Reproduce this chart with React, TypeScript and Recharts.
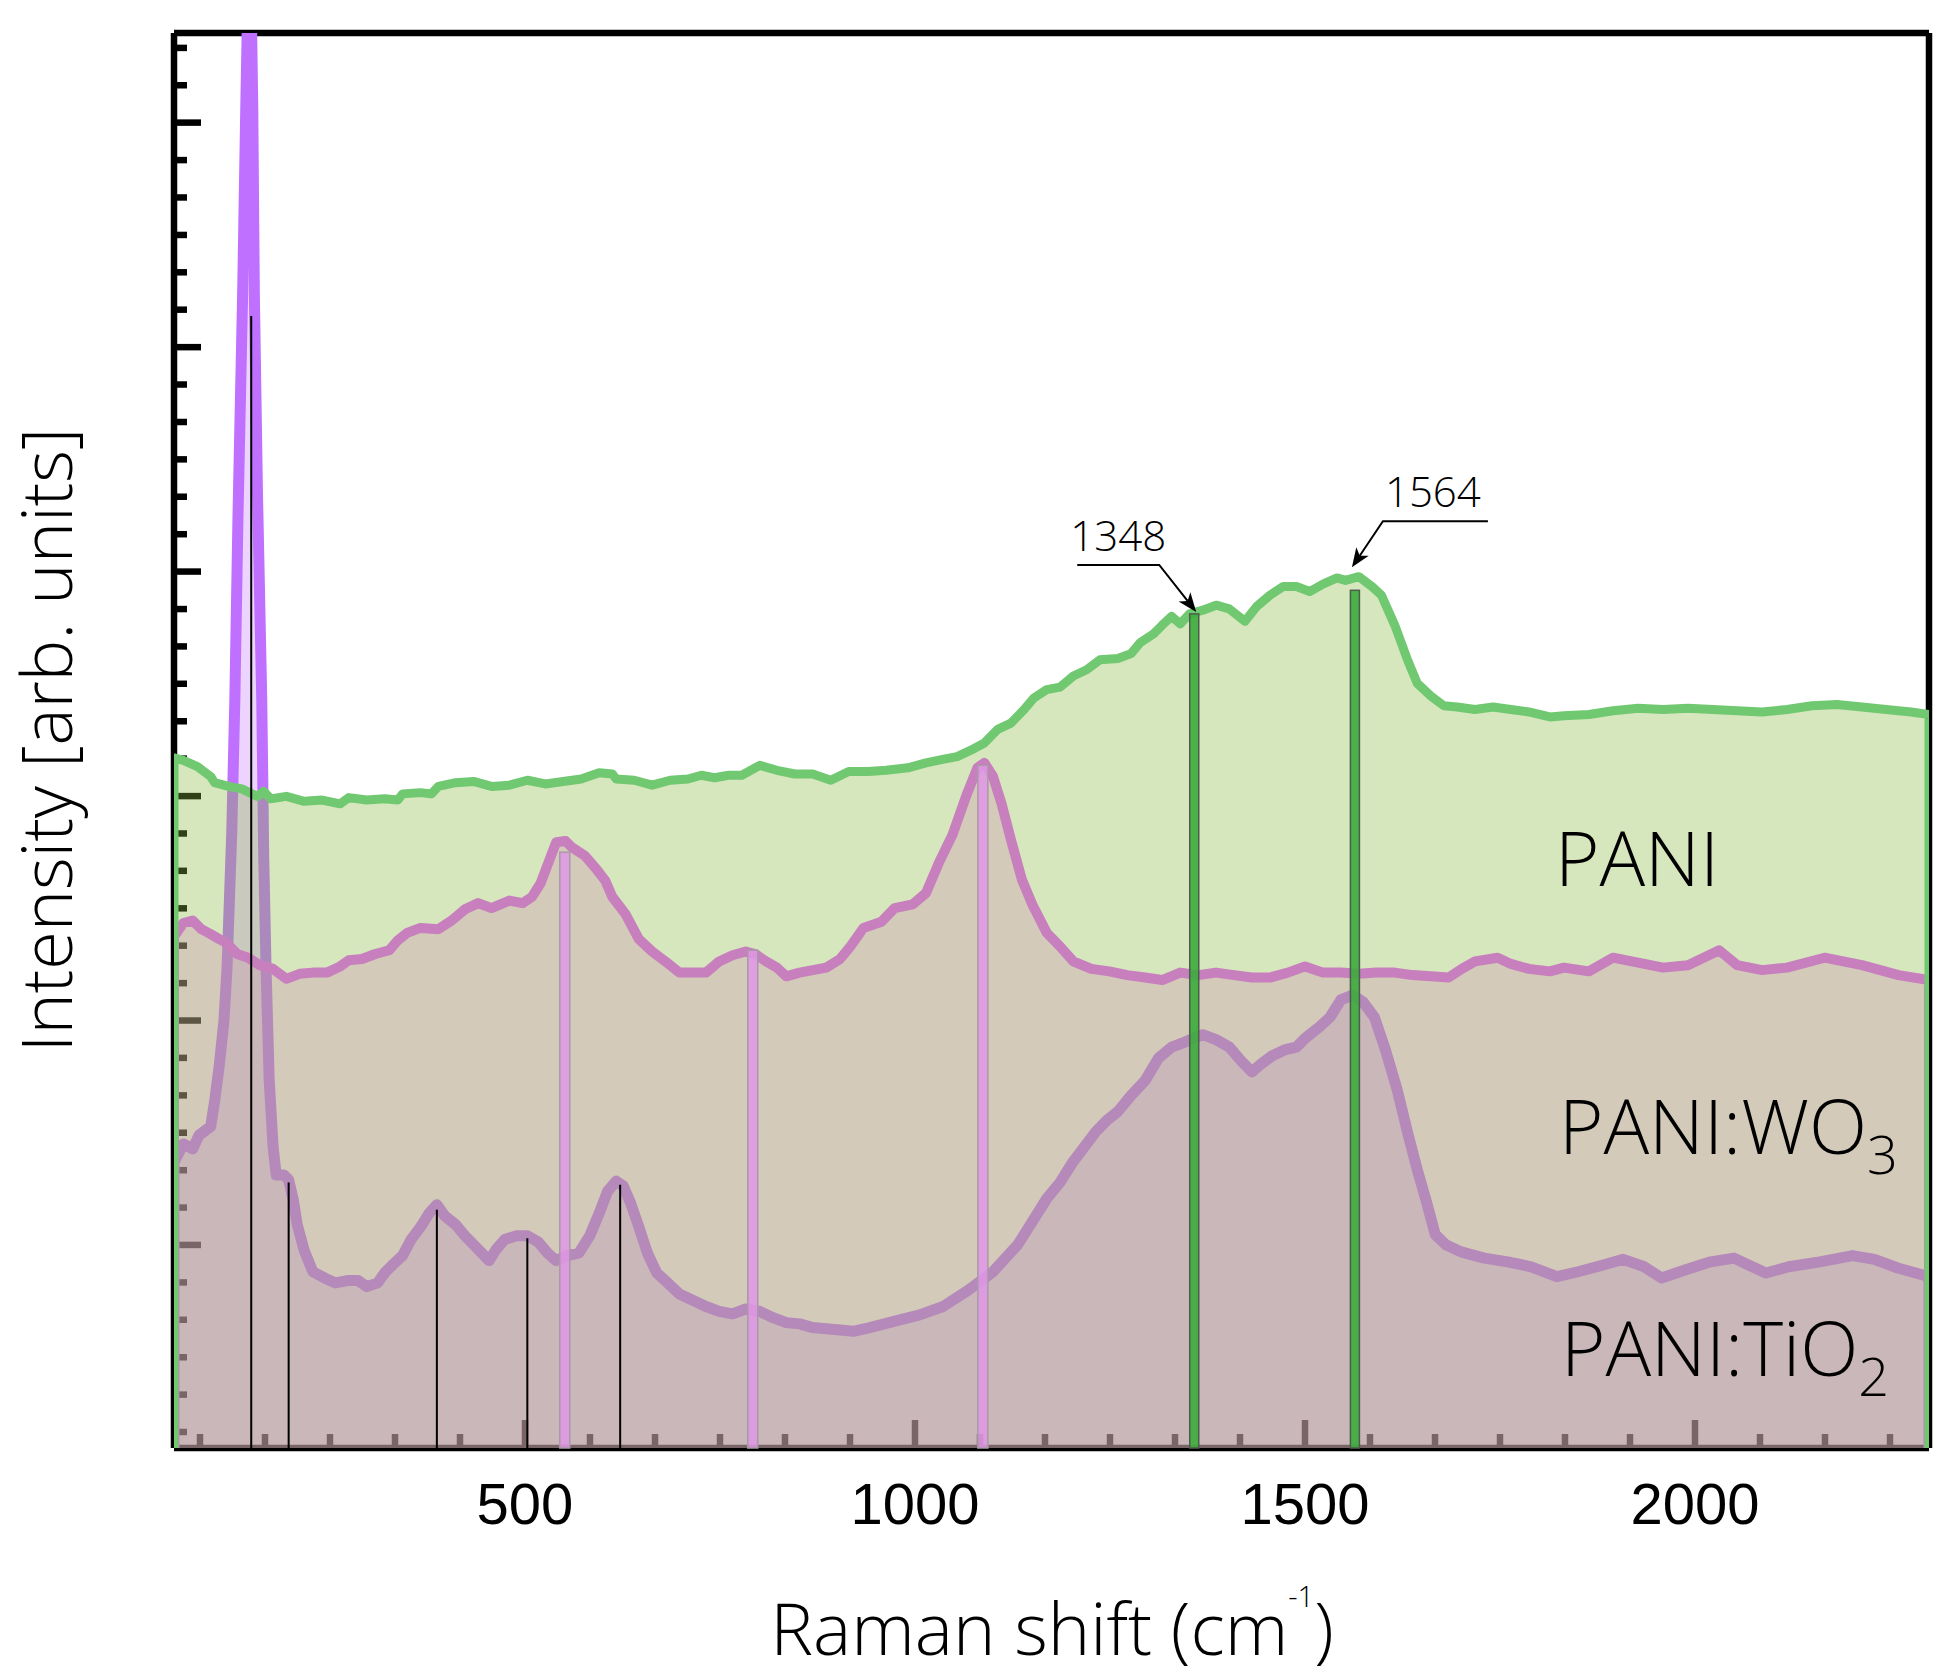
import React from 'react';
import { ComposedChart, Area, XAxis, YAxis, ReferenceLine, ReferenceDot } from 'recharts';

// ---------------- data ----------------
// Raman shift (cm-1), intensity (arb. units)
const paniPoints: [number, number][] = [
  [50, 0], [50, 556], [62, 554], [80, 549], [97, 541], [102, 536], [120, 533], [137, 531], [157, 525], [165, 529],
  [174, 523], [194, 525], [217, 521], [240, 522], [263, 519], [274, 524], [297, 522], [320, 523], [337, 522], [343, 527],
  [366, 528], [380, 527], [389, 533], [411, 536], [434, 537], [457, 533], [480, 534], [503, 538], [526, 535], [549, 537],
  [572, 539], [595, 544], [612, 543], [617, 539], [640, 538], [663, 534], [686, 538], [709, 539], [726, 542], [743, 540],
  [761, 542], [778, 542], [801, 550], [823, 546], [846, 543], [869, 543], [892, 538], [915, 545], [940, 545], [963, 546],
  [991, 548], [1014, 552], [1037, 555], [1054, 557], [1071, 562], [1089, 568], [1106, 579], [1123, 584], [1140, 595], [1152, 604],
  [1169, 611], [1186, 613], [1203, 622], [1220, 627], [1237, 635], [1260, 636], [1277, 640], [1289, 649], [1306, 656], [1317, 663],
  [1329, 670], [1340, 664], [1352, 672], [1369, 675], [1386, 679], [1403, 676], [1423, 666], [1438, 678], [1455, 687], [1472, 694],
  [1489, 694], [1506, 690], [1523, 696], [1541, 701], [1552, 699], [1569, 702], [1586, 694], [1598, 687], [1615, 663], [1632, 634],
  [1644, 616], [1661, 606], [1678, 598], [1695, 597], [1718, 595], [1741, 597], [1764, 595], [1787, 593], [1814, 589], [1832, 590],
  [1864, 591], [1895, 594], [1927, 596], [1959, 595], [1991, 596], [2023, 595], [2054, 594], [2086, 593], [2118, 595], [2150, 598],
  [2182, 599], [2214, 597], [2245, 595], [2277, 593], [2300, 591], [2300, 0],
];

const wo3Points: [number, number][] = [
  [50, 0], [50, 412], [62, 423], [74, 425], [85, 418], [97, 414], [108, 410], [117, 407], [131, 398], [145, 395],
  [160, 389], [177, 386], [194, 378], [211, 382], [228, 383], [246, 383], [263, 388], [274, 393], [291, 394], [308, 398],
  [326, 401], [337, 409], [349, 415], [366, 419], [389, 418], [406, 425], [423, 434], [440, 439], [457, 435], [480, 441],
  [497, 439], [509, 444], [520, 455], [532, 475], [540, 488], [552, 489], [560, 484], [577, 477], [592, 466], [603, 457],
  [612, 444], [629, 430], [646, 410], [663, 400], [680, 392], [698, 383], [720, 383], [732, 383], [749, 392], [766, 397],
  [783, 400], [795, 398], [809, 392], [823, 387], [835, 380], [852, 383], [869, 385], [886, 387], [904, 394], [917, 404],
  [934, 419], [957, 424], [974, 435], [997, 438], [1014, 447], [1031, 472], [1048, 494], [1066, 526], [1080, 548], [1089, 552],
  [1100, 541], [1111, 519], [1123, 490], [1137, 458], [1151, 437], [1169, 415], [1186, 404], [1203, 392], [1226, 386], [1249, 384],
  [1272, 381], [1295, 379], [1317, 377], [1340, 383], [1363, 381], [1386, 383], [1409, 381], [1432, 379], [1455, 379], [1478, 383],
  [1500, 388], [1523, 383], [1546, 383], [1569, 382], [1592, 383], [1615, 383], [1638, 381], [1661, 380], [1684, 379], [1701, 386],
  [1718, 392], [1747, 395], [1764, 390], [1787, 386], [1814, 384], [1832, 387], [1864, 384], [1895, 395], [1927, 391], [1959, 387],
  [1991, 389], [2031, 401], [2054, 389], [2086, 385], [2118, 387], [2166, 395], [2214, 389], [2261, 381], [2300, 377], [2300, 0],
];

const tio2Points: [number, number][] = [
  [50, 0], [50, 230], [62, 245], [74, 241], [82, 252], [97, 259], [102, 279], [108, 308], [114, 344], [118, 387],
  [121, 441], [124, 495], [126, 549], [128, 603], [132, 750], [138, 930], [142, 1080], [147, 1250], [151, 1080], [153, 930],
  [157, 770], [162.5, 603], [163.6, 549], [165, 477], [168, 387], [172, 297], [177, 243], [181, 220], [191, 220], [197, 216],
  [203, 200], [208, 180], [217, 159], [228, 142], [243, 137], [257, 133], [274, 135], [286, 135], [297, 130], [311, 133],
  [320, 141], [331, 148], [343, 155], [354, 168], [366, 178], [377, 189], [387, 196], [397, 187], [411, 180], [423, 171],
  [440, 160], [454, 151], [463, 160], [474, 168], [489, 171], [503, 171], [517, 166], [529, 157], [540, 151], [554, 155],
  [569, 157], [583, 171], [595, 189], [606, 207], [617, 215], [626, 211], [635, 198], [646, 178], [657, 157], [669, 141],
  [683, 133], [698, 124], [715, 119], [732, 114], [749, 110], [766, 108], [783, 112], [801, 110], [818, 105], [835, 101],
  [852, 100], [869, 97], [886, 96], [904, 95], [921, 94], [942, 97], [973, 102], [1005, 107], [1036, 114], [1068, 127],
  [1100, 142], [1132, 164], [1169, 201], [1186, 214], [1203, 231], [1214, 240], [1232, 255], [1246, 264], [1260, 271], [1277, 284],
  [1295, 296], [1312, 314], [1329, 323], [1346, 327], [1357, 330], [1369, 333], [1386, 329], [1403, 323], [1418, 312], [1432, 303],
  [1443, 309], [1458, 316], [1475, 321], [1489, 323], [1500, 330], [1518, 339], [1532, 347], [1546, 361], [1561, 365], [1575, 359],
  [1589, 347], [1603, 321], [1618, 289], [1632, 253], [1644, 224], [1655, 200], [1667, 172], [1680, 164], [1700, 158], [1730, 153],
  [1760, 150], [1790, 146], [1823, 138], [1850, 142], [1880, 147], [1908, 152], [1935, 146], [1957, 137], [1990, 144], [2020, 150],
  [2050, 153], [2070, 147], [2091, 141], [2120, 146], [2160, 150], [2202, 155], [2230, 152], [2260, 145], [2300, 138], [2300, 0],
];

// peak markers
const tio2Peaks = [149, 197, 387, 503, 622];
const tio2PeakHeights = [912, 214, 192, 169, 212];
const wo3Peaks = [551, 792, 1087];
const wo3PeakHeights = [480, 401, 550];
const paniPeaks = [1358, 1564];
const paniPeakHeights = [672, 691];
const paniPeakLabels = ['1348', '1564'];

// axes
const xDomain = [50, 2300];
const yDomain = [0, 1140];
const xTicks = [83.33, 166.67, 250, 333.33, 416.67, 500, 583.33, 666.67, 750, 833.33, 916.67, 1000, 1083.33, 1166.67,
  1250, 1333.33, 1416.67, 1500, 1583.33, 1666.67, 1750, 1833.33, 1916.67, 2000, 2083.33, 2166.67, 2250];
const xTickLabels = [500, 1000, 1500, 2000];
const yTicks = [12.9, 43.0, 73.1, 103.3, 133.4, 163.6, 193.7, 223.8, 254.0, 284.1, 314.3, 344.4, 374.5, 404.7, 434.8,
  465.0, 495.1, 525.2, 555.4, 585.5, 615.7, 645.8, 675.9, 706.1, 736.2, 766.4, 796.5, 826.6, 856.8, 886.9, 917.1,
  947.2, 977.3, 1007.5, 1037.6, 1067.8, 1097.9, 1128.0];
const yMajorTicks = [163.6, 344.4, 525.2, 706.1, 886.9, 1067.8];

const toRows = (pts: [number, number][]) => pts.map(([shift, intensity]) => ({ shift, intensity }));
const paniData = toRows(paniPoints);
const wo3Data = toRows(wo3Points);
const tio2Data = toRows(tio2Points);

// ---------------- layout / style ----------------
const W = 1938;
const H = 1660;
// axes layer: each axis occupies 1px; series layer: hidden axes take no space
const AXIS_MARGIN = { top: 24, right: 16, bottom: 219, left: 165 };
const PLOT_MARGIN = { top: 25, right: 17, bottom: 220, left: 166 };
const AXIS_W = 6.5;
const LIGHT = "'Open Sans', 'Noto Sans', sans-serif";

const XTick = (props: any) => {
  const { x, y, payload } = props;
  const v = payload.value;
  const major = xTickLabels.some((t) => Math.abs(t - v) < 0.5);
  const len = major ? 28 : 14;
  return (
    <g>
      <line x1={x} x2={x} y1={y} y2={y - len} stroke="#000" strokeWidth={AXIS_W} />
      {major && (
        <text x={x} y={y + 76} textAnchor="middle" fontFamily="'Liberation Sans', Arial, sans-serif" fontSize={58} fill="#000">
          {Math.round(v)}
        </text>
      )}
    </g>
  );
};

const YTick = (props: any) => {
  const { x, y, payload } = props;
  const major = yMajorTicks.some((t) => Math.abs(t - payload.value) < 0.5);
  const len = major ? 27 : 13;
  return <line x1={x} x2={x + len} y1={y} y2={y} stroke="#000" strokeWidth={AXIS_W} />;
};

const stemShape = (w: number, fill: string, stroke: string, sw: number) => (props: any) => {
  const { x1, y1, x2, y2 } = props;
  if (x1 == null || y1 == null) return <g />;
  const top = Math.min(y1, y2);
  const h = Math.abs(y2 - y1);
  return <rect x={x1 - w / 2} y={top} width={w} height={h} fill={fill} stroke={stroke} strokeWidth={sw} />;
};

// annotation geometry relative to the marker top
const annGeom = [
  { tip: [2, -2], kink: [-35, -49], end: [-117, -49], text: [-124, -63] },
  { tip: [-3, -23], kink: [28, -69], end: [133, -69], text: [30, -83] },
];

const annotationShape = (i: number) => (props: any) => {
  const { cx, cy } = props;
  if (cx == null || cy == null) return <g />;
  const g = annGeom[i];
  const tx = cx + g.tip[0], ty = cy + g.tip[1];
  const kx = cx + g.kink[0], ky = cy + g.kink[1];
  const dx = tx - kx, dy = ty - ky;
  const L = Math.hypot(dx, dy);
  const ux = dx / L, uy = dy / L;
  const px = -uy, py = ux;
  const len = 19, hw = 7.5, notch = 5;
  const bx = tx - ux * len, by = ty - uy * len;
  const nx = tx - ux * (len - notch), ny = ty - uy * (len - notch);
  const head = `${tx},${ty} ${bx + px * hw},${by + py * hw} ${nx},${ny} ${bx - px * hw},${by - py * hw}`;
  return (
    <g>
      <polyline points={`${cx + g.end[0]},${cy + g.end[1]} ${kx},${ky} ${nx},${ny}`} fill="none" stroke="#000" strokeWidth={2} />
      <polygon points={head} fill="#000" />
      <text x={cx + g.text[0]} y={cy + g.text[1]} fontFamily={LIGHT} fontWeight={300} fontSize={42} fill="#000">
        {paniPeakLabels[i]}
      </text>
    </g>
  );
};

const layer: React.CSSProperties = { position: 'absolute', left: 0, top: 0 };

export default function App() {
  return (
    <div style={{ position: 'relative', width: W, height: H }}>
      {/* bottom layer: frame and ticks (covered by the translucent fills, as in the original) */}
      <div style={layer}>
        <ComposedChart width={W} height={H} margin={AXIS_MARGIN} data={tio2Data}>
          <XAxis
            xAxisId="x" type="number" dataKey="shift" domain={xDomain} allowDataOverflow ticks={xTicks} interval={0}
            height={1} tickSize={0} tickMargin={0} tickLine={false} tick={<XTick />}
            axisLine={{ stroke: '#000', strokeWidth: AXIS_W }}
          />
          <XAxis
            xAxisId="top" orientation="top" type="number" dataKey="shift" domain={xDomain} allowDataOverflow height={1}
            tick={false} tickLine={false} axisLine={{ stroke: '#000', strokeWidth: AXIS_W }}
          />
          <YAxis
            yAxisId="y" type="number" domain={yDomain} allowDataOverflow ticks={yTicks} interval={0}
            width={1} tickSize={0} tickMargin={0} tickLine={false} tick={<YTick />}
            axisLine={{ stroke: '#000', strokeWidth: AXIS_W }}
          />
          <YAxis
            yAxisId="right" orientation="right" type="number" domain={yDomain} allowDataOverflow width={1}
            tick={false} tickLine={false} axisLine={{ stroke: '#000', strokeWidth: AXIS_W }}
          />
        </ComposedChart>
      </div>

      {/* top layer: spectra and peak markers */}
      <div style={layer}>
        <ComposedChart width={W} height={H} margin={PLOT_MARGIN}>
          <XAxis xAxisId="x" type="number" dataKey="shift" domain={xDomain} allowDataOverflow hide />
          <YAxis yAxisId="y" type="number" domain={yDomain} allowDataOverflow hide />

          <Area
            xAxisId="x" yAxisId="y" data={tio2Data} dataKey="intensity" type="linear" baseValue={0}
            stroke="#bf70ff" strokeWidth={11} strokeLinejoin="round" fill="#bf70ff" fillOpacity={0.3}
            dot={false} activeDot={false} isAnimationActive={false}
          />
          <Area
            xAxisId="x" yAxisId="y" data={wo3Data} dataKey="intensity" type="linear" baseValue={0}
            stroke="#e962ff" strokeWidth={10} strokeLinejoin="round" fill="#f075ea" fillOpacity={0.3}
            dot={false} activeDot={false} isAnimationActive={false}
          />
          <Area
            xAxisId="x" yAxisId="y" data={paniData} dataKey="intensity" type="linear" baseValue={0}
            stroke="#70c870" strokeWidth={9} strokeLinejoin="round" fill="#8ab842" fillOpacity={0.35}
            dot={false} activeDot={false} isAnimationActive={false}
          />

          {wo3Peaks.map((p, i) => (
            <ReferenceLine
              key={`w${i}`} xAxisId="x" yAxisId="y"
              segment={[{ x: p, y: 0 }, { x: p, y: wo3PeakHeights[i] }]}
              shape={stemShape(10, 'rgba(224,150,230,0.85)', '#a89aa8', 1.5)}
            />
          ))}
          {paniPeaks.map((p, i) => (
            <ReferenceLine
              key={`p${i}`} xAxisId="x" yAxisId="y"
              segment={[{ x: p, y: 0 }, { x: p, y: paniPeakHeights[i] }]}
              shape={stemShape(9, 'rgba(60,172,60,0.9)', '#4d5d4d', 1.5)}
            />
          ))}
          {tio2Peaks.map((p, i) => (
            <ReferenceLine
              key={`t${i}`} xAxisId="x" yAxisId="y"
              segment={[{ x: p, y: 0 }, { x: p, y: tio2PeakHeights[i] }]}
              stroke="#000" strokeWidth={2}
            />
          ))}
          {paniPeaks.map((p, i) => (
            <ReferenceDot
              key={`a${i}`} xAxisId="x" yAxisId="y" x={p} y={paniPeakHeights[i]} r={1}
              shape={annotationShape(i)}
            />
          ))}
        </ComposedChart>
      </div>

      <svg width={W} height={H} style={{ ...layer, pointerEvents: 'none', overflow: 'visible' }}>
        <text transform="translate(64,732) rotate(-90)" textAnchor="middle" fontFamily={LIGHT} fontWeight={300} fontSize={70} fill="#000">
          Intensity [arb. units]
        </text>
        <text x={1044} y={1647} textAnchor="middle" fontFamily={LIGHT} fontWeight={300} fontSize={72} fill="#000">
          Raman shift (cm<tspan fontSize={29} dy={-48}>-1</tspan><tspan dy={48}>)</tspan>
        </text>
        <text x={1547} y={878} fontFamily={LIGHT} fontWeight={300} fontSize={76} fill="#000">PANI</text>
        <text x={1551} y={1146} fontFamily={LIGHT} fontWeight={300} fontSize={76} fill="#000">
          PANI:WO<tspan fontSize={54} dy={20}>3</tspan>
        </text>
        <text x={1553} y={1368} fontFamily={LIGHT} fontWeight={300} fontSize={76} fill="#000">
          PANI:TiO<tspan fontSize={54} dy={20}>2</tspan>
        </text>
      </svg>
    </div>
  );
}
